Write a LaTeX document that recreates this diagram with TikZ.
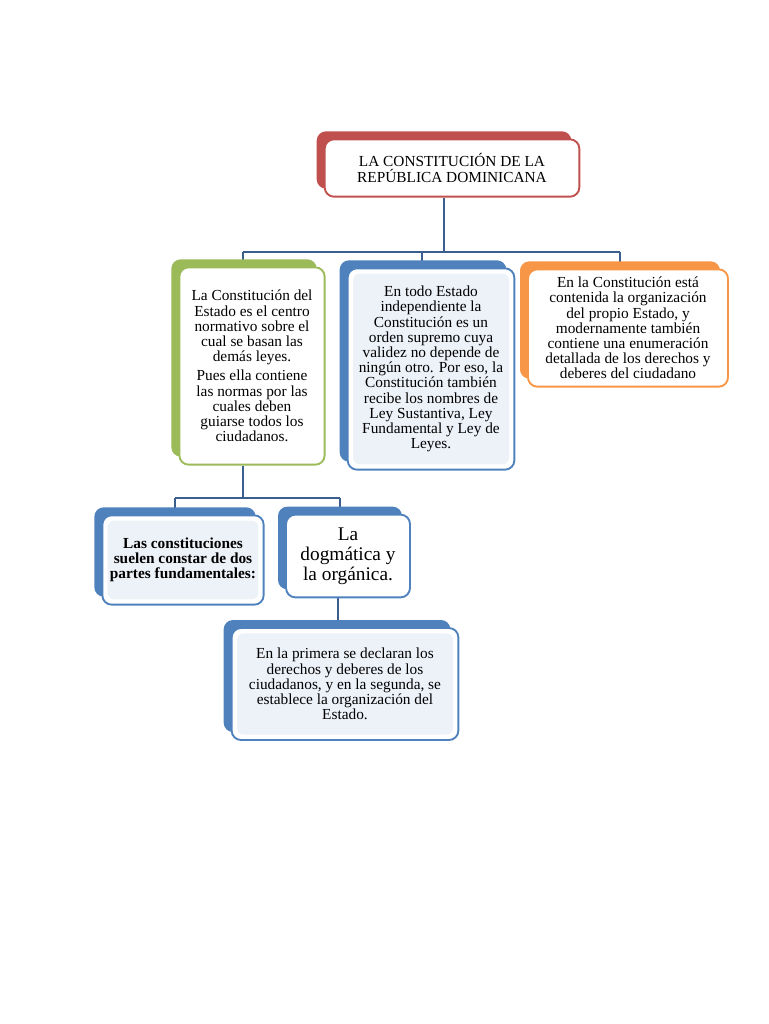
\documentclass[tikz,border=0pt]{standalone}
\usepackage{fontspec}
\setmainfont{Liberation Serif}
\usetikzlibrary{positioning,shadows,backgrounds,calc}
\definecolor{rojo}{HTML}{C0504D}
\definecolor{verde}{HTML}{9BBB59}
\definecolor{azul}{HTML}{4F81BD}
\definecolor{naranja}{HTML}{F79646}
\definecolor{celeste}{HTML}{EDF1F8}
\definecolor{linea}{HTML}{3A5F8E}

\begin{document}
\begin{tikzpicture}[x=0.75pt,y=-0.75pt,
	caja/.style={draw=#1,line width=1.4pt,rounded corners=7pt,fill=white,align=center,
		font=\fontsize{11.5}{11.4}\selectfont,inner sep=2pt,
		general shadow={fill=#1,shadow xshift=-6pt,shadow yshift=6pt,rounded corners=7pt}},
	relleno/.style={path picture={\fill[celeste,rounded corners=5pt]
		($(path picture bounding box.north west)+(4pt,-4pt)$) rectangle
		($(path picture bounding box.south east)+(-4pt,4pt)$);}},
	conector/.style={draw=linea,line width=1.5pt}]
	\useasboundingbox (0,0) rectangle (768,1024);
		\node[caja=rojo,minimum width=191pt,minimum height=43pt] (titulo) at (452,168) {LA CONSTITUCIÓN DE LA\\REPÚBLICA DOMINICANA};
		\node[caja=verde,minimum width=109pt,minimum height=148pt] (centro) at (252,366) {La Constitución del\\Estado es el centro\\normativo sobre el\\cual se basan las\\demás leyes.\\[3pt]Pues ella contiene\\las normas por las\\cuales deben\\guiarse todos los\\ciudadanos.};
		\node[caja=azul,relleno,minimum width=125pt,minimum height=151pt] (supremo) at (431,369) {En todo Estado\\independiente la\\Constitución es un\\orden supremo cuya\\validez no depende de\\ningún otro. Por eso, la\\Constitución también\\recibe los nombres de\\Ley Sustantiva, Ley\\Fundamental y Ley de\\Leyes.};
		\node[caja=naranja,minimum width=150pt,minimum height=88pt] (organiza) at (628,328) {En la Constitución está\\contenida la organización\\del propio Estado, y\\modernamente también\\contiene una enumeración\\detallada de los derechos y\\deberes del ciudadano};
		\node[caja=azul,relleno,minimum width=121pt,minimum height=67pt] (partes) at (183,560) {\bfseries Las constituciones\\\bfseries suelen constar de dos\\\bfseries partes fundamentales:};
		\node[caja=azul,minimum width=93pt,minimum height=62pt,font=\fontsize{14.5}{15}\selectfont] (dosPartes) at (348,556) {La\\dogmática y\\la orgánica.};
		\node[caja=azul,relleno,minimum width=170pt,minimum height=84pt] (detalle) at (345,684) {En la primera se declaran los\\derechos y deberes de los\\ciudadanos, y en la segunda, se\\establece la organización del\\Estado.};
		\coordinate (b0) at (444,252);
		\coordinate (b1) at (243,252);
		\coordinate (b2) at (620,252);
		\coordinate (b3) at (422,252);
		\coordinate (c0) at (243,498);
		\coordinate (c1) at (175,498);
		\coordinate (c2) at (340,498);
		\coordinate (d0) at (338,0);
		\begin{scope}[on background layer]
			\path[conector]
				(b0 |- titulo.south) -- (b0)
				(b1) -- (b2)
				(b1) -- (b1 |- centro.north)
				(b3) -- (b3 |- supremo.north)
				(b2) -- (b2 |- organiza.north)
				(c0 |- centro.south) -- (c0)
				(c1) -- (c2)
				(c1) -- (c1 |- partes.north)
				(c2) -- (c2 |- dosPartes.north)
				(d0 |- dosPartes.south) -- (d0 |- detalle.north);
		\end{scope}
	\end{tikzpicture}
\end{document}
